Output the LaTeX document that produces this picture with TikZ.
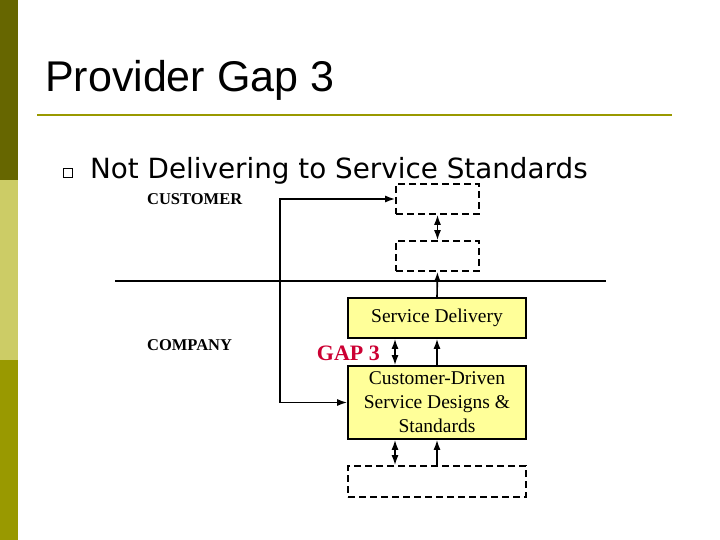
\documentclass[tikz,border=0pt]{standalone}
\usepackage{fontspec}
\setmainfont{Liberation Serif}
\newfontfamily\slidefont{Liberation Sans}
\newfontfamily\headfont{DejaVu Sans}
\usetikzlibrary{positioning,arrows.meta}
\definecolor{barA}{HTML}{666600}
\definecolor{barB}{HTML}{CCCC66}
\definecolor{barC}{HTML}{999900}
\definecolor{boxfill}{HTML}{FFFF99}
\definecolor{gapred}{HTML}{CC0033}
\begin{document}
\begin{tikzpicture}[x=1pt, y=-1pt, line width=1.6pt, >={Latex[length=10pt,width=7pt]},
    solidbox/.style = {draw, fill=boxfill, minimum width=178pt, align=center, font=\fontsize{19.5}{24}\selectfont},
    emptybox/.style = {draw, dash pattern=on 7pt off 4pt, minimum width=83pt, minimum height=30pt}]
    \useasboundingbox (0,0) rectangle (720,540);
    \fill[white] (0,0) rectangle (720,540);
    \fill[barA] (0,0) rectangle (18,180);
    \fill[barB] (0,180) rectangle (18,360);
    \fill[barC] (0,360) rectangle (18,540);
    \node[anchor=west, font=\slidefont\fontsize{43}{46}\selectfont] (title) at (41,80) {Provider Gap 3};
    \draw[barC, line width=2.5pt] (37,115) -- (672,115);
    \node[draw, line width=1pt, minimum size=9pt, inner sep=0pt] (bullet) at (68,173) {};
    \node[anchor=west, font=\headfont\fontsize{27.8}{30}\selectfont] (head) at (86,171) {Not Delivering to Service Standards};
    \node[anchor=west, font=\bfseries\fontsize{16.5}{20}\selectfont] (cust) at (143,199) {CUSTOMER};
    \node[anchor=west, font=\bfseries\fontsize{16.5}{20}\selectfont] (comp) at (143,345) {COMPANY};
    \coordinate (lineL) at (115,281);
    \coordinate (lineR) at (606,281);
    \draw (lineL) -- (lineR);
    % boxes
    \node[emptybox] (top) at (437.5,199) {};
    \node[emptybox] (mid) at (437.5,256) {};
    \node[solidbox, minimum height=40pt] (sd) at (437,318) {Service Delivery};
    \node[solidbox, minimum height=73pt, inner sep=1pt] (cdsd) at (437,402.5) {Customer-Driven\\Service Designs \&\\Standards};
    \node[emptybox, minimum width=178pt, minimum height=31pt] (bot) at (437,481.5) {};
    \node[anchor=east, text=gapred, font=\bfseries\fontsize{22}{26}\selectfont] (gap) at (384,353) {GAP 3};
    % arrows
    \draw[<->] (top.south) -- (mid.north);
    \draw[->] (sd.north) -- (mid.south);
    \draw[<->] (sd.south -| 395,0) -- (cdsd.north -| 395,0);
    \draw[->] (cdsd.north) -- (sd.south);
    \draw[<->] (cdsd.south -| 395,0) -- (bot.north -| 395,0);
    \draw[->] (bot.north) -- (cdsd.south);
    \coordinate (loop) at (280,300);
    \draw[->] (loop) |- (top.west);
    \draw[->] (loop) |- (cdsd.west);
\end{tikzpicture}
\end{document}
